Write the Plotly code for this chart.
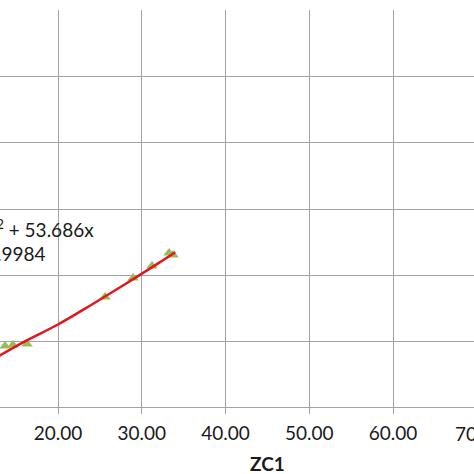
import plotly.graph_objects as go

# data points (ZC1 vs response)
zc1 = [13.67, 14.62, 16.30, 25.62, 28.96, 31.23, 33.26, 33.74]
resp = [924, 939, 955, 1667, 1955, 2136, 2333, 2303]

# polynomial trendline, values
trend_x = [12.5, 16.0, 20.0, 24.0, 28.0, 32.0, 34.0]
trend_y = [740, 990, 1250, 1550, 1860, 2180, 2345]

x_ticks = [20, 30, 40, 50, 60]
x_tick_text = ["20.00", "30.00", "40.00", "50.00", "60.00"]
cut_tick_text = "70.00"
eq_line1 = "y = 0.4500x<sup>2</sup> + 53.686x"
eq_line2 = "R² = 0.9984"
x_title = "ZC1"

FONT = "Lato"
FS = 19
GRID = "#a3a3a3"
TXT = "#1a1a1a"

fig = go.Figure()
fig.add_trace(go.Scatter(
    x=zc1, y=resp, mode="markers",
    marker=dict(symbol="triangle-up", size=10, color="#9bbb59"),
    showlegend=False, cliponaxis=True))
fig.add_trace(go.Scatter(
    x=trend_x, y=trend_y, mode="lines", line=dict(color="#e3151b", width=2.5, shape="spline"),
    showlegend=False))

fig.update_layout(
    width=474, height=474,
    margin=dict(l=0, r=0, t=10, b=67, autoexpand=False),
    paper_bgcolor="white", plot_bgcolor="white",
    font=dict(family=FONT, size=FS, color=TXT),
    xaxis=dict(range=[13.075, 69.67], tickvals=x_ticks, ticktext=x_tick_text,
               showgrid=True, gridcolor=GRID, gridwidth=1, automargin=False,
               ticks="outside", ticklen=6, tickcolor=GRID, ticklabelstandoff=3,
               showline=True, linecolor=GRID, linewidth=1, zeroline=False,
               tickfont=dict(family=FONT, size=FS, color=TXT)),
    yaxis=dict(range=[0, 6015], tickvals=[0, 1000, 2000, 3000, 4000, 5000, 6000],
               showgrid=True, gridcolor=GRID, gridwidth=1,
               automargin=False,
               showticklabels=False, zeroline=False, showline=False, ticks=""),
    annotations=[
        dict(text=cut_tick_text, xref="paper", yref="paper", x=453/474, y=(407-434)/397,
             xanchor="left", yanchor="middle", showarrow=False,
             font=dict(family=FONT, size=FS, color=TXT)),
        dict(text=eq_line1, xref="paper", yref="paper", x=96/474, y=(407-229)/397,
             xanchor="right", yanchor="middle", showarrow=False,
             font=dict(family=FONT, size=FS, color=TXT)),
        dict(text=eq_line2, xref="paper", yref="paper", x=48/474, y=(407-253)/397,
             xanchor="right", yanchor="middle", showarrow=False,
             font=dict(family=FONT, size=FS, color=TXT)),
        dict(text="<b>" + x_title + "</b>", xref="paper", yref="paper", x=267/474, y=(407-463)/397,
             xanchor="center", yanchor="middle", showarrow=False,
             font=dict(family=FONT, size=FS, color=TXT)),
    ],
)

fig.write_html("out.html", config={"displayModeBar": False},
               post_script="document.body.style.margin='0';")
